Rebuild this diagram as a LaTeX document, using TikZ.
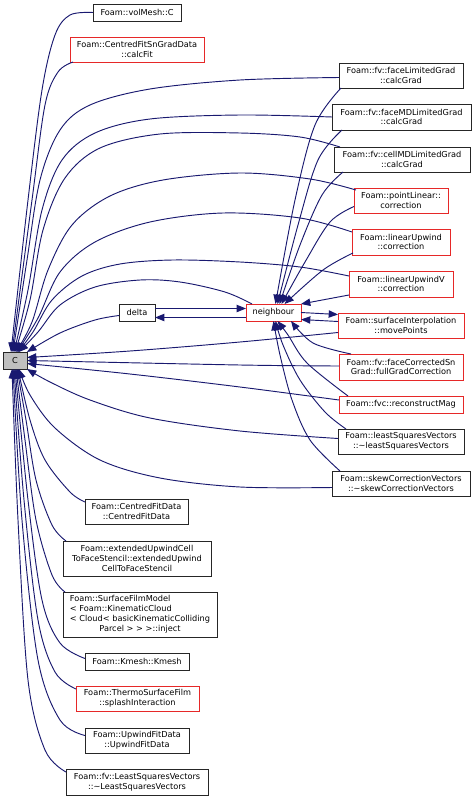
\documentclass[tikz,border=0pt]{standalone}
\usepackage{fontspec}
\setmainfont{DejaVu Sans}
\usetikzlibrary{arrows.meta,calc}
\definecolor{edgecol}{RGB}{25,25,112}
\definecolor{redcol}{RGB}{230,40,40}
\definecolor{gcol}{RGB}{191,191,191}
\newcommand{\nfont}{\fontsize{6.15}{7.3}\selectfont}
\begin{document}
\begin{tikzpicture}[x=0.75pt,y=-0.75pt,
  nbox/.style={draw=black!85,fill=white,line width=0.7pt,inner sep=1pt,outer sep=0pt,align=center,font=\nfont},
  rbox/.style={nbox,draw=redcol},
  gbox/.style={nbox,fill=gcol},
  sz/.style 2 args={minimum width=#1*0.75pt,minimum height=#2*0.75pt},
  conn/.style={draw=edgecol,line width=0.7pt,-{Triangle[length=7pt,width=5.5pt]}},
  sm/.style={smooth,tension=0.55}]
\useasboundingbox[fill=white] (0,0) rectangle (474,799);
% nodes
\node[gbox,sz={24}{17}] (C) at (15,360.5) {C};
\node[nbox,sz={88}{17}] (vm) at (137,12.5) {Foam::volMesh::C};
\node[rbox,sz={134}{25}] (cfsg) at (137,49.5) {Foam::CentredFitSnGradData\\::calcFit};
\node[nbox,sz={124}{25}] (flg) at (401,75.5) {Foam::fv::faceLimitedGrad\\::calcGrad};
\node[nbox,sz={139}{26}] (fmdlg) at (401.5,117) {Foam::fv::faceMDLimitedGrad\\::calcGrad};
\node[nbox,sz={136}{25}] (cmdlg) at (402,159.5) {Foam::fv::cellMDLimitedGrad\\::calcGrad};
\node[rbox,sz={94}{25}] (pl) at (401,200.5) {Foam::pointLinear::\\correction};
\node[rbox,sz={98}{26}] (lu) at (401,242) {Foam::linearUpwind\\::correction};
\node[rbox,sz={104}{26}] (luv) at (401,284) {Foam::linearUpwindV\\::correction};
\node[rbox,sz={55}{17}] (nb) at (273.5,312.5) {neighbour};
\node[rbox,sz={126}{25}] (mp) at (401,325.5) {Foam::surfaceInterpolation\\::movePoints};
\node[rbox,sz={124}{26}] (fcsg) at (401,367) {Foam::fv::faceCorrectedSn\\Grad::fullGradCorrection};
\node[rbox,sz={124}{17}] (rm) at (401,404.5) {Foam::fvc::reconstructMag};
\node[nbox,sz={126}{25}] (lsv) at (401,441.5) {Foam::leastSquaresVectors\\::\textasciitilde leastSquaresVectors};
\node[nbox,sz={138}{25}] (scv) at (401,483.5) {Foam::skewCorrectionVectors\\::\textasciitilde skewCorrectionVectors};
\node[nbox,sz={36}{17}] (delta) at (137,312.5) {delta};
\node[nbox,sz={103}{25}] (cfd) at (136.5,511.5) {Foam::CentredFitData\\::CentredFitData};
\node[nbox,sz={148}{35}] (eu) at (137,558.5) {Foam::extendedUpwindCell\\ToFaceStencil::extendedUpwind\\CellToFaceStencil};
\node[nbox,sz={154}{45}] (sfm) at (140,614.5) {\begin{tabular}{@{}l@{}}Foam::SurfaceFilmModel\\< Foam::KinematicCloud\\< Cloud< basicKinematicColliding\\\multicolumn{1}{@{}c@{}}{Parcel > > >::inject}\end{tabular}};
\node[nbox,sz={104}{17}] (km) at (137,661.5) {Foam::Kmesh::Kmesh};
\node[rbox,sz={123}{25}] (tsf) at (137.5,698.5) {Foam::ThermoSurfaceFilm\\::splashInteraction};
\node[nbox,sz={104}{25}] (ufd) at (137,740.5) {Foam::UpwindFitData\\::UpwindFitData};
\node[nbox,sz={142}{26}] (lsv2) at (137,782) {Foam::fv::LeastSquaresVectors\\::\textasciitilde LeastSquaresVectors};
% edges into C from above
\draw[conn] plot[sm] coordinates {(vm.west) (70,15) (55,35) (42,90) (28,200) ($(C.north)+(-4,0)$)};
\draw[conn] plot[sm] coordinates {($(cfsg.south west)+(3,0)$) (58,72) (45,105) (32,200) ($(C.north)+(-3,0)$)};
\draw[conn] plot[sm] coordinates {($(flg.west)+(0,2)$) (240,80) (150,89) (90,105) (60,130) (40,180) (27,260) ($(C.north)+(-2,0)$)};
\draw[conn] plot[sm] coordinates {(fmdlg.west) (240,115) (150,119) (95,133) (62,160) (42,210) (28,290) ($(C.north)+(-1,0)$)};
\draw[conn] plot[sm] coordinates {($(cmdlg.north west)+(6,0)$) (300,137) (240,133) (160,134) (100,148) (65,178) (43,230) (30,300) ($(C.north)+(0,0)$)};
\draw[conn] plot[sm] coordinates {($(pl.north west)+(2,2)$) (310,179) (240,173) (163,180) (110,196) (72,225) (48,270) (32,322) ($(C.north)+(1,0)$)};
\draw[conn] plot[sm] coordinates {($(lu.west)+(0,-10)$) (300,218) (223,213) (150,222) (95,242) (60,272) (38,318) ($(C.north)+(2,0)$)};
\draw[conn] plot[sm] coordinates {($(luv.west)+(0,-8)$) (300,267) (240,262) (173,260) (120,264) (82,276) (52,300) (33,332) ($(C.north)+(3,0)$)};
\draw[conn] plot[sm] coordinates {($(nb.north west)+(6,0)$) (225,292) (180,282) (140,280) (95,287) (60,305) (38,332) ($(C.north)+(4,0)$)};
\draw[conn] plot[sm] coordinates {($(delta.west)+(0,3)$) (95,320) (60,333) (C.north east)};
% edges into C from the right
\draw[conn] plot[sm] coordinates {($(mp.west)+(0,7)$) (240,342) (130,351) ($(C.east)+(0,-3)$)};
\draw[conn] plot[sm] coordinates {($(fcsg.west)+(0,-1)$) (240,365) ($(C.east)+(0,0)$)};
\draw[conn] plot[sm] coordinates {($(rm.north west)+(0,4)$) (240,387) (130,374) ($(C.east)+(0,3)$)};
\draw[conn] plot[sm] coordinates {($(lsv.west)+(0,-3)$) (240,431) (150,418) (90,400) (50,382) (C.south east)};
\draw[conn] plot[sm] coordinates {($(scv.west)+(0,4)$) (240,487) (160,478) (100,460) (55,428) (30,395) ($(C.south)+(4,0)$)};
% edges into C from below
\draw[conn] plot[sm] coordinates {($(cfd.north west)+(0,3)$) (70,492) (45,460) (30,420) ($(C.south)+(3,0)$)};
\draw[conn] plot[sm] coordinates {($(eu.north west)+(3,0)$) (52,525) (36,480) (26,420) ($(C.south)+(2,0)$)};
\draw[conn] plot[sm] coordinates {($(sfm.north west)+(2,0)$) (52,575) (36,520) (25,440) ($(C.south)+(1,0)$)};
\draw[conn] plot[sm] coordinates {($(km.west)+(0,-3)$) (60,643) (42,600) (28,500) ($(C.south)+(0,0)$)};
\draw[conn] plot[sm] coordinates {($(tsf.north west)+(0,3)$) (55,672) (38,620) (24,500) ($(C.south)+(-1,0)$)};
\draw[conn] plot[sm] coordinates {($(ufd.west)+(0,-5)$) (60,720) (38,660) (22,520) ($(C.south)+(-2,0)$)};
\draw[conn] plot[sm] coordinates {($(lsv2.north west)+(0,3)$) (45,750) (28,680) (18,520) ($(C.south)+(-3,0)$)};
% edges into neighbour
\draw[conn] plot[sm] coordinates {($(flg.south west)+(2,0)$) (315,125) (295,200) ($(nb.north)+(2,0)$)};
\draw[conn] plot[sm] coordinates {($(fmdlg.south west)+(10,0)$) (318,160) (298,225) ($(nb.north)+(4,0)$)};
\draw[conn] plot[sm] coordinates {($(cmdlg.south west)+(9,0)$) (322,195) (300,245) ($(nb.north)+(6,0)$)};
\draw[conn] plot[sm] coordinates {($(pl.west)+(0,6)$) (330,222) (305,262) ($(nb.north)+(8,0)$)};
\draw[conn] plot[sm] coordinates {($(lu.south west)+(1,-2)$) (323,270) ($(nb.north)+(11,0)$)};
\draw[conn] ($(luv.south west)+(0,-2)$) -- (nb.north east);
\draw[conn] (nb.east) -- ($(mp.north west)+(0,1.5)$);
\draw[conn] ($(mp.west)+(0,-4)$) -- ($(nb.south east)+(0,-1.5)$);
\draw[conn] plot[sm] coordinates {($(fcsg.north west)+(12,0)$) (313,343) ($(nb.south east)+(-10,0)$)};
\draw[conn] plot[sm] coordinates {($(rm.north west)+(9,0)$) (307,363) (288,335) ($(nb.south)+(4,0)$)};
\draw[conn] plot[sm] coordinates {($(lsv.north west)+(8,0)$) (325,412) (300,380) (283,345) ($(nb.south)+(2,0)$)};
\draw[conn] plot[sm] coordinates {($(scv.north west)+(8,0)$) (310,440) (292,400) (280,355) ($(nb.south)+(0,0)$)};
% delta <-> neighbour
\draw[conn] ($(delta.east)+(0,-4)$) -- ($(nb.west)+(0,-4)$);
\draw[conn] ($(nb.west)+(0,5)$) -- ($(delta.east)+(0,5)$);
\end{tikzpicture}
\end{document}
